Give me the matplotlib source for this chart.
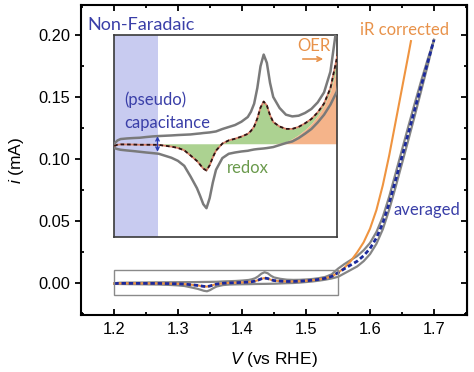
import numpy as np
import matplotlib
matplotlib.use('Agg')
import matplotlib.pyplot as plt
from matplotlib.ticker import MultipleLocator, FormatStrFormatter
from matplotlib.patches import Rectangle, FancyArrowPatch

plt.rcParams['font.family'] = ['Liberation Sans', 'DejaVu Sans']
plt.rcParams['mathtext.fontset'] = 'custom'
plt.rcParams['mathtext.it'] = 'Liberation Sans:italic'
plt.rcParams['mathtext.rm'] = 'Liberation Sans'

# ---------------- data (V vs RHE, current in mA) ----------------
potential = np.array([
    1.200, 1.205, 1.21, 1.22, 1.23, 1.24, 1.25, 1.26, 1.27, 1.28, 1.29, 1.30,
    1.31, 1.32, 1.33, 1.335, 1.34, 1.345, 1.35, 1.355, 1.36, 1.37, 1.38, 1.39,
    1.40, 1.41, 1.415, 1.42, 1.425, 1.43, 1.435, 1.44, 1.445, 1.45, 1.46, 1.47,
    1.48, 1.49, 1.50, 1.51, 1.52, 1.53, 1.54, 1.55, 1.56, 1.57, 1.58, 1.59,
    1.60, 1.61, 1.62, 1.63, 1.64, 1.65, 1.66, 1.67, 1.68, 1.69, 1.70])

i_forward = np.array([
    0.0, 0.00033, 0.00047, 0.00053, 0.00057, 0.00060, 0.00067, 0.00073, 0.00077,
    0.00080, 0.00083, 0.00087, 0.00090, 0.00093, 0.00100, 0.00103, 0.00107,
    0.00110, 0.00113, 0.00118, 0.00123, 0.00147, 0.00167, 0.00187, 0.00220,
    0.00267, 0.00320, 0.00400, 0.00557, 0.00773, 0.00890, 0.00807, 0.00607,
    0.00467, 0.00357, 0.00290, 0.00273, 0.00280, 0.00307, 0.00347, 0.00413,
    0.00513, 0.00720, 0.01180, 0.0155, 0.0188, 0.0220, 0.0266, 0.0325, 0.0413,
    0.0535, 0.0698, 0.0885, 0.1075, 0.1265, 0.1450, 0.1630, 0.1800, 0.1960])

i_reverse = np.array([
    -0.00043, -0.00053, -0.00060, -0.00067, -0.00073, -0.00080, -0.00087,
    -0.00093, -0.00100, -0.00120, -0.00140, -0.00170, -0.00220, -0.00327,
    -0.00443, -0.00520, -0.00603, -0.00643, -0.00543, -0.00387, -0.00260,
    -0.00143, -0.00100, -0.00087, -0.00077, -0.00070, -0.00063, -0.00057,
    -0.00053, -0.00050, -0.00047, -0.00043, -0.00038, -0.00033, -0.00013,
    0.00007, 0.00023, 0.00057, 0.00100, 0.00147, 0.00213, 0.00290, 0.00390,
    0.00520, 0.0080, 0.0108, 0.0136, 0.0178, 0.0235, 0.0318, 0.0435, 0.0593,
    0.0775, 0.0965, 0.1155, 0.1350, 0.1550, 0.1750, 0.1960])

# iR-corrected curve where it departs from the averaged one
ir_potential_hi = [1.56, 1.57, 1.58, 1.59, 1.60, 1.61, 1.62, 1.63, 1.64, 1.65, 1.66, 1.664]
ir_current_hi = [0.0125, 0.0180, 0.0250, 0.0330, 0.0440, 0.0590, 0.0790, 0.1030,
                 0.1300, 0.1570, 0.1840, 0.1950]

# OER background in the inset (upper boundary of orange area)
oer_potential = [1.45, 1.46, 1.47, 1.48, 1.49, 1.50, 1.51, 1.52, 1.53, 1.54, 1.55]
i_oer = [0.0, 0.00005, 0.00020, 0.00050, 0.00090, 0.00140, 0.00200, 0.00280,
         0.00380, 0.00520, 0.00750]

i_avg = (i_forward + i_reverse) / 2

low = potential <= 1.5501
ir_v = np.concatenate([potential[low], ir_potential_hi])
ir_i = np.concatenate([i_avg[low], ir_current_hi])

# ---------------- styling ----------------
GRAY = '#858585'
BLUE = '#1c2a9c'
ORANGE = '#ef9440'
TXT_BLUE = '#3a3fa8'
TXT_GREEN = '#6a9a4c'
TXT_ORANGE = '#e8924a'
ANNOT_FONT = ['Lato', 'DejaVu Sans']

fig = plt.figure(figsize=(4.74, 3.72), dpi=100)
ax = fig.add_axes([0.171, 0.153, 0.814, 0.834])

ax.plot(potential, i_forward, color=GRAY, lw=1.6, zorder=2)
ax.plot(potential, i_reverse, color=GRAY, lw=1.6, zorder=2)
ax.plot(ir_v, ir_i, color=ORANGE, lw=1.5, zorder=3)
ax.plot(potential, i_avg, color=BLUE, lw=2.0, ls=(0, (1.6, 1.0)), zorder=4)

ax.set_xlim(1.148, 1.7515)
ax.set_ylim(-0.0256, 0.2242)
ax.xaxis.set_major_locator(MultipleLocator(0.1))
ax.xaxis.set_minor_locator(MultipleLocator(0.05))
ax.yaxis.set_major_locator(MultipleLocator(0.05))
ax.yaxis.set_minor_locator(MultipleLocator(0.025))
ax.xaxis.set_major_formatter(FormatStrFormatter('%.1f'))
ax.yaxis.set_major_formatter(FormatStrFormatter('%.2f'))
for s in ax.spines.values():
    s.set_linewidth(1.5)
ax.tick_params(axis='x', which='both', direction='in', top=True, labelsize=11.8, width=1.3)
ax.tick_params(axis='x', which='major', length=4.5, pad=5)
ax.tick_params(axis='x', which='minor', length=2.5)
ax.tick_params(axis='y', which='major', direction='out', length=4.5, width=1.3, labelsize=11.8)
ax.tick_params(axis='y', which='minor', direction='in', length=2.5, width=1.3)
secy = ax.secondary_yaxis('right')
secy.yaxis.set_major_locator(MultipleLocator(0.05))
secy.yaxis.set_minor_locator(MultipleLocator(0.025))
secy.tick_params(which='both', direction='in', labelright=False, width=1.3)
secy.tick_params(which='major', length=4.5)
secy.tick_params(which='minor', length=2.5)

ax.set_ylabel(r'$i$ (mA)', fontsize=12.5)
ax.set_xlabel(r'$V$ (vs RHE)', fontsize=12.5)
ax.yaxis.set_label_coords(-0.143, 0.5)
ax.xaxis.set_label_coords(0.5, -0.113)

# zoom rectangle
y_lo, y_hi = -0.0093, 0.0109
ax.add_patch(Rectangle((1.2, y_lo), 0.35, y_hi - y_lo, fill=False,
                       edgecolor='#8a8a8a', lw=1.0, zorder=5))

# ---------------- inset ----------------
axin = ax.inset_axes([1.2, 0.0373, 0.348, 0.1630], transform=ax.transData, zorder=6)
axin.set_xlim(1.2, 1.55)
axin.set_ylim(y_lo, y_hi)
axin.set_xticks([])
axin.set_yticks([])
for s in axin.spines.values():
    s.set_linewidth(1.2)
    s.set_color('#3a3a3a')

axin.axvspan(1.2, 1.269, color='#c8cbf0', lw=0, zorder=0)

base = np.zeros_like(potential)
seg = (potential >= 1.4499) & (potential <= 1.5501)
base[seg] = i_oer
inside = potential <= 1.5501
v_in = potential[inside]
a_in = i_avg[inside]
b_in = base[inside]
GREEN_FILL = '#acd291'
ORANGE_FILL = '#f5b48a'
axin.fill_between(v_in, a_in, b_in, where=(a_in > b_in) & (v_in >= 1.37),
                  color=GREEN_FILL, lw=0, interpolate=True, zorder=1)
axin.fill_between(v_in, a_in, 0, where=(a_in < 0) & (v_in >= 1.28),
                  color=GREEN_FILL, lw=0, interpolate=True, zorder=1)
v_seg = potential[seg]
axin.fill_between(v_seg, 0, np.minimum(np.array(i_oer), i_avg[seg]),
                  color=ORANGE_FILL, lw=0, zorder=1)

axin.plot(potential, i_forward, color='#7a7a7a', lw=1.8, zorder=3)
axin.plot(potential, i_reverse, color='#7a7a7a', lw=1.8, zorder=3)
axin.plot(potential, i_avg, color='#d9826a', lw=1.3, zorder=4)
axin.plot(potential, i_avg, color='#2a1414', lw=1.3, ls=(0, (2.0, 1.6)), zorder=5)

axin.annotate('', xy=(1.268, 0.00076), xytext=(1.268, -0.0008),
              arrowprops=dict(arrowstyle='<->', color='#2b3bb0', lw=1.0,
                              mutation_scale=6, shrinkA=0, shrinkB=0), zorder=6)

# ---------------- annotations ----------------
def ftext(px, py, s, color, size=12):
    fig.text(px / 474, 1 - py / 372, s, color=color, fontsize=size,
             family=ANNOT_FONT, ha='left', va='center', zorder=10)

ftext(87, 25, 'Non-Faradaic', TXT_BLUE, 13)
ftext(124, 100, '(pseudo)', TXT_BLUE)
ftext(124, 123, 'capacitance', TXT_BLUE)
ftext(227, 168, 'redox', TXT_GREEN)
ftext(297, 46, 'OER', TXT_ORANGE)
ftext(360, 30, 'iR corrected', TXT_ORANGE)
ftext(393, 210, 'averaged', TXT_BLUE)
fig.patches.append(FancyArrowPatch(
    (300 / 474, 1 - 59 / 372), (326 / 474, 1 - 59 / 372), transform=fig.transFigure,
    arrowstyle='->', mutation_scale=8, color=TXT_ORANGE, lw=1.2, zorder=10))

fig.savefig('out.png', dpi=100)
